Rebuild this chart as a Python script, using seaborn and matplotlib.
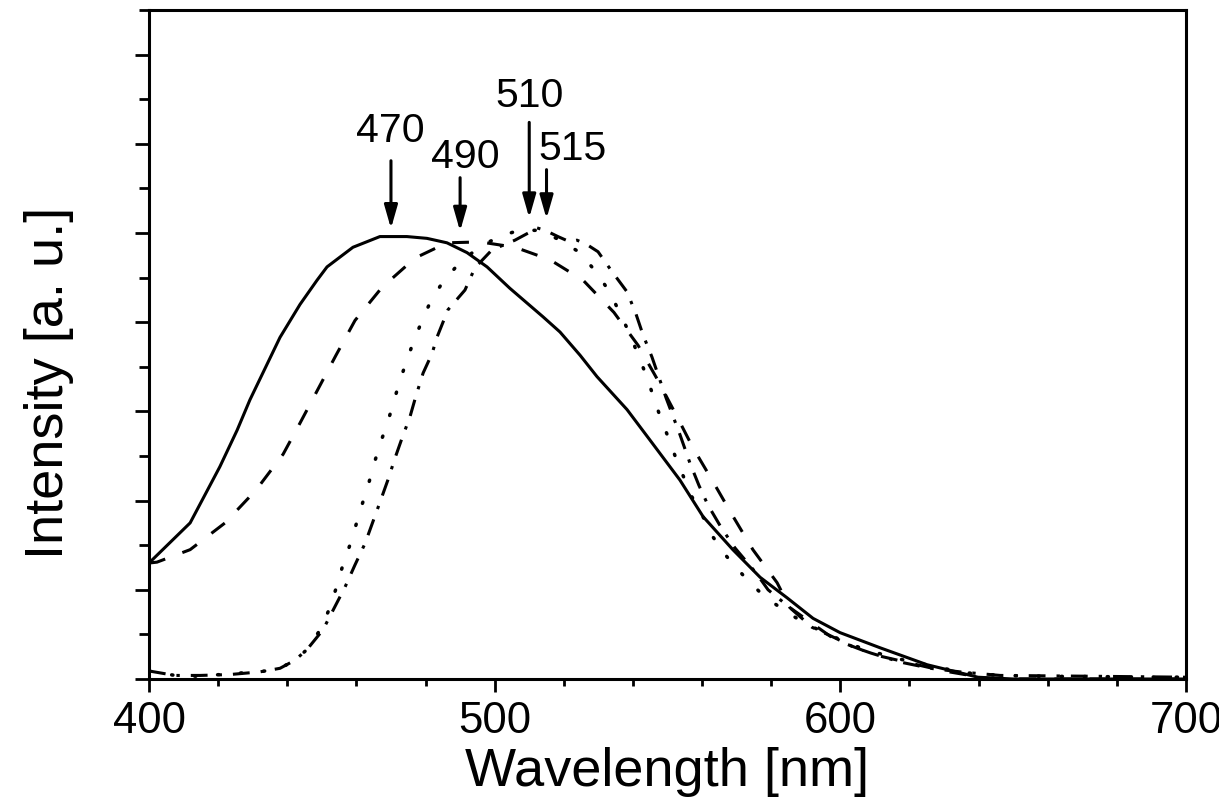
import numpy as np
import pandas as pd
import matplotlib
matplotlib.use("Agg")
import matplotlib.pyplot as plt
import seaborn as sns
from matplotlib.ticker import MultipleLocator, NullFormatter

# ---------------- data ----------------
wl_solid = [400.0, 411.9, 420.5, 425.5, 429.2, 437.9, 443.7, 448.6, 451.5, 459.0,
            466.8, 474.6, 480.4, 486.2, 492.0, 497.8, 504.4, 514.0, 518.9, 524.7,
            529.6, 538.3, 544.9, 553.6, 560.3, 568.9, 576.8, 584.6, 592.1, 599.9,
            611.5, 625.1, 634.6, 639.8, 650.0, 700.0]
int_solid = [1.30, 1.75, 2.38, 2.79, 3.13, 3.83, 4.20, 4.47, 4.62, 4.84,
             4.96, 4.96, 4.94, 4.89, 4.78, 4.62, 4.38, 4.06, 3.89, 3.63,
             3.39, 3.02, 2.68, 2.23, 1.82, 1.45, 1.14, 0.91, 0.68, 0.52,
             0.35, 0.16, 0.07, 0.02, 0.0, 0.0]

wl_dash = [400.0, 402.3, 411.9, 422.0, 431.0, 438.8, 443.7, 448.9, 454.1, 459.6,
           467.4, 477.0, 486.2, 495.8, 505.9, 516.0, 525.6, 534.5, 541.5, 547.2,
           552.5, 557.4, 562.9, 568.7, 574.7, 581.7, 585.4, 598.5, 610.0, 620.0,
           630.0, 642.0, 650.0, 700.0]
int_dash = [1.30, 1.31, 1.45, 1.75, 2.12, 2.52, 2.87, 3.25, 3.63, 4.02,
            4.39, 4.72, 4.89, 4.90, 4.84, 4.70, 4.47, 4.11, 3.74, 3.35,
            2.96, 2.59, 2.23, 1.84, 1.45, 1.08, 0.80, 0.44, 0.27, 0.18,
            0.09, 0.01, 0.0, 0.0]

wl_dot = [400.0, 407.5, 414.8, 423.4, 432.1, 437.9, 442.2, 445.7, 450.0, 452.4,
          454.4, 456.1, 458.1, 459.9, 461.6, 463.4, 465.1, 466.8, 468.9, 470.6,
          472.3, 474.3, 476.4, 478.7, 481.3, 484.8, 489.7, 495.5, 501.3, 507.0,
          513.1, 518.9, 524.7, 529.6, 533.4, 539.2, 541.5, 543.8, 545.8, 547.8,
          550.1, 552.2, 554.5, 557.1, 560.0, 563.2, 567.2, 572.4, 577.6, 583.7,
          589.5, 597.0, 605.7, 615.2, 625.9, 636.1, 646.2, 660.6, 700.0]
int_dot = [0.09, 0.04, 0.03, 0.06, 0.08, 0.12, 0.21, 0.33, 0.58, 0.81,
           1.05, 1.28, 1.50, 1.73, 1.95, 2.17, 2.41, 2.63, 2.86, 3.08,
           3.31, 3.54, 3.77, 3.99, 4.22, 4.44, 4.66, 4.84, 4.96, 5.03,
           5.03, 4.92, 4.78, 4.55, 4.33, 3.86, 3.63, 3.41, 3.18, 2.95,
           2.72, 2.50, 2.28, 2.04, 1.84, 1.59, 1.37, 1.14, 0.94, 0.77,
           0.63, 0.49, 0.35, 0.24, 0.15, 0.07, 0.04, 0.03, 0.02]

wl_dashdot = [400.0, 407.5, 414.8, 423.4, 432.1, 437.9, 442.2, 445.7, 450.3, 456.7,
              459.6, 462.5, 466.8, 469.1, 471.2, 473.2, 475.5, 477.2, 479.3, 481.9,
              483.3, 486.5, 491.4, 494.3, 499.2, 505.9, 510.2, 512.0, 514.6, 518.3,
              521.8, 523.8, 526.7, 529.9, 533.9, 538.3, 540.9, 542.9, 545.5, 549.6,
              553.6, 556.5, 559.1, 561.7, 565.5, 569.5, 575.6, 579.1, 585.4, 591.8,
              598.5, 603.7, 608.9, 617.3, 626.0, 634.6, 646.2, 675.1, 700.0]
int_dashdot = [0.09, 0.04, 0.04, 0.05, 0.08, 0.12, 0.21, 0.33, 0.55, 1.03,
               1.28, 1.52, 1.98, 2.23, 2.48, 2.70, 2.94, 3.17, 3.43, 3.65,
               3.83, 4.14, 4.36, 4.61, 4.81, 4.92, 5.01, 5.06, 5.03, 4.96,
               4.90, 4.92, 4.87, 4.79, 4.57, 4.34, 4.09, 3.86, 3.61, 3.15,
               2.74, 2.42, 2.17, 1.95, 1.70, 1.47, 1.19, 1.00, 0.80, 0.58,
               0.46, 0.36, 0.29, 0.19, 0.12, 0.08, 0.04, 0.03, 0.02]

peak_labels = ["470", "490", "510", "515"]
peak_wl = [470, 490, 510, 515]

x_ticks = [400, 500, 600, 700]

# ---------------- figure ----------------
sns.set_theme(style="white")
plt.rcParams['font.family'] = ['Liberation Sans', 'DejaVu Sans']
plt.rcParams['text.color'] = 'black'
plt.rcParams['axes.labelcolor'] = 'black'
plt.rcParams['xtick.color'] = 'black'
plt.rcParams['ytick.color'] = 'black'

fig = plt.figure(figsize=(12.19, 8.09), dpi=100)
ax = fig.add_axes([149/1219, 1 - 679/809, (1186-149)/1219, (679-10)/809])

LW = 2.2
series = [
    (wl_solid, int_solid, "-", "butt", LW),
    (wl_dash, int_dash, (0, (5.5, 6)), "butt", LW),
    (wl_dot, int_dot, (0, (0.35, 6.2)), "round", LW * 1.15),
    (wl_dashdot, int_dashdot, (0, (5.5, 3.6, 1.1, 3.6)), "butt", LW),
]
for xs, ys, ls, cap, lw in series:
    df = pd.DataFrame({"wl": xs, "I": ys})
    sns.lineplot(data=df, x="wl", y="I", ax=ax, color="black", lw=lw,
                 linestyle=ls, estimator=None, sort=False,
                 dash_capstyle=cap, solid_capstyle="round",
                 solid_joinstyle="round")

ax.set_xlim(400, 700)
ax.set_ylim(0, 7.5)
ax.set_xticks(x_ticks)
ax.set_xticklabels([str(t) for t in x_ticks])
ax.xaxis.set_minor_locator(MultipleLocator(20))
ax.yaxis.set_major_locator(MultipleLocator(1))
ax.yaxis.set_minor_locator(MultipleLocator(0.5))
ax.yaxis.set_major_formatter(NullFormatter())

for sp in ax.spines.values():
    sp.set_visible(True)
    sp.set_color("black")
    sp.set_linewidth(2.2)

ax.tick_params(axis="both", which="both", direction="out", color="black",
               labelcolor="black",
               bottom=True, left=True, top=False, right=False)
ax.tick_params(axis="x", which="major", length=9.5, width=2.0, labelsize=31.5, pad=6)
ax.tick_params(axis="x", which="minor", length=5, width=2.0)
ax.tick_params(axis="y", which="major", length=10, width=2.0)
ax.tick_params(axis="y", which="minor", length=7, width=2.0)

ax.set_xlabel("Wavelength [nm]", fontsize=39, color="black")
ax.set_ylabel("Intensity [a. u.]", fontsize=39, color="black")
ax.xaxis.set_label_coords(0.5, -0.102)
ax.yaxis.set_label_coords(-0.072, 0.443)

# annotation layout (arrow tip / tail heights and label positions)
tips = [5.05, 5.02, 5.17, 5.16]
tails = [5.81, 5.62, 6.24, 5.71]
text_x = [469.7, 491.4, 510.2, 522.4]
text_y = [6.14, 5.85, 6.54, 5.94]
for lab, wl, tp, tl, tx, ty in zip(peak_labels, peak_wl, tips, tails, text_x, text_y):
    ax.annotate("", xy=(wl, tp), xytext=(wl, tl),
                arrowprops=dict(arrowstyle="-|>,head_length=0.7,head_width=0.2",
                                mutation_scale=20, color="black", lw=2.2,
                                shrinkA=0, shrinkB=0))
    ax.text(tx, ty, lab, ha="center", va="center", fontsize=29.5, color="black")

fig.savefig("out.png", dpi=100, facecolor="white")
